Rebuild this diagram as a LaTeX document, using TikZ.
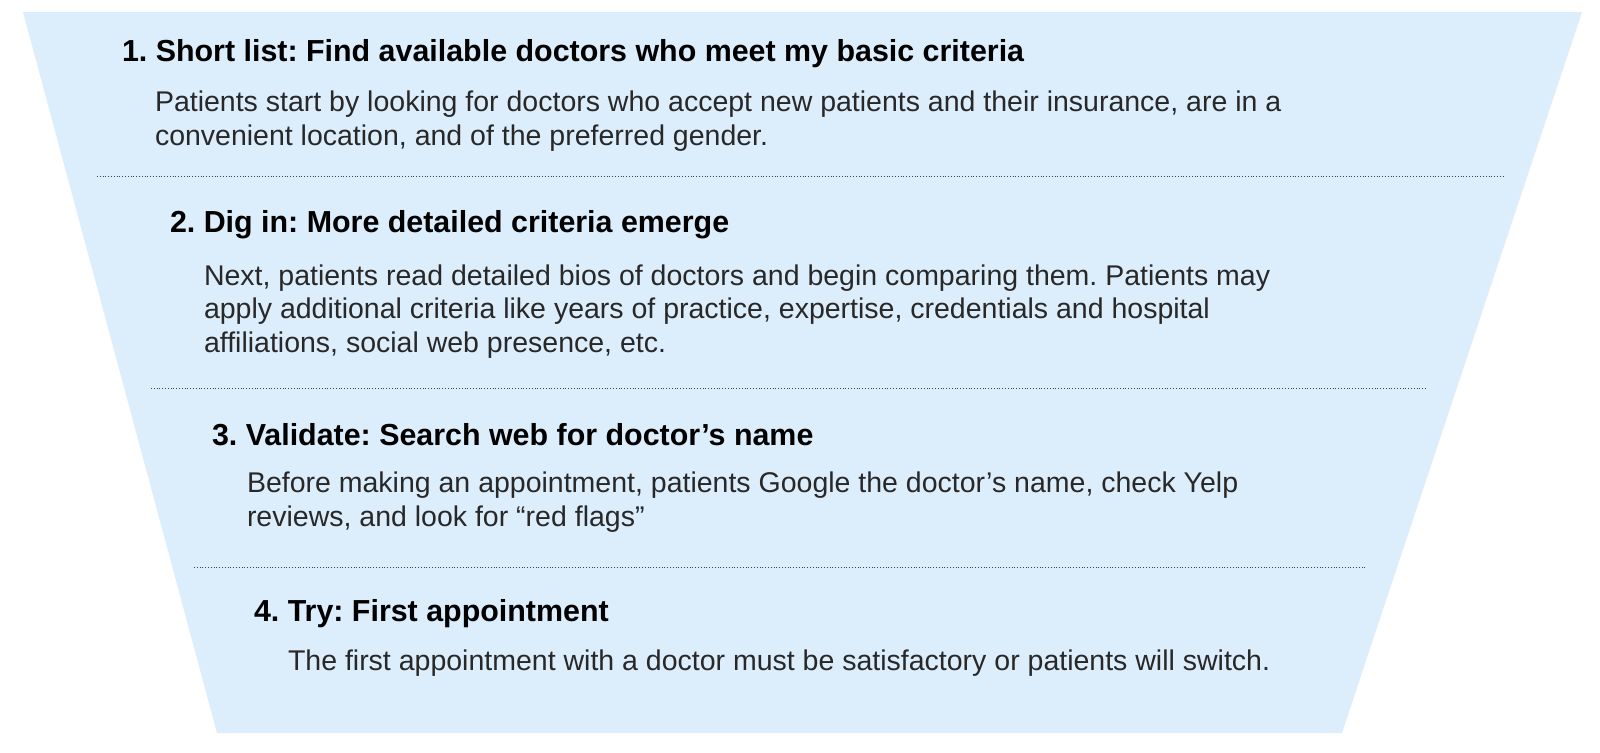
\documentclass[tikz,border=0pt]{standalone}
\usepackage{fontspec}
\setmainfont{Liberation Sans}
\usepackage{xcolor}
\usetikzlibrary{positioning}
\frenchspacing

\definecolor{funnelblue}{RGB}{220,237,252}
\definecolor{bodygray}{RGB}{40,40,40}

\begin{document}
\begin{tikzpicture}[x=0.5pt,y=-0.5pt,semithick]
  \tikzstyle{every node}=[inner sep=0pt, outer sep=0pt, anchor=base west]
  \tikzstyle{steptitle}=[font=\fontsize{15.2}{17}\selectfont\bfseries, text=black]
  \tikzstyle{stepbody}=[font=\fontsize{14.25}{16.75}\selectfont, text=bodygray, align=left]
  \tikzstyle{divider}=[densely dotted, thin, draw=black!75]

  \useasboundingbox (0,0) rectangle (1600,752);
  % the funnel
  \fill[funnelblue] (23,12) -- (1582,12) -- (1342,733) -- (217,733) -- cycle;

  % step 1 (body nodes sit on the baseline of their last line)
  \node[steptitle] (t1) at (122,61) {1. Short list: Find available doctors who meet my basic criteria};
  \node[stepbody]  (b1) at (155,145) {Patients start by looking for doctors who accept new patients and their insurance, are in a\\convenient location, and of the preferred gender.};
  \coordinate (d1l) at (97,176);
  \coordinate (d1r) at (1505,176);
  \draw[divider] (d1l) -- (d1r);

  % step 2
  \node[steptitle] (t2) at (170,232) {2. Dig in: More detailed criteria emerge};
  \node[stepbody]  (b2) at (204,352) {Next, patients read detailed bios of doctors and begin comparing them. Patients may\\apply additional criteria like years of practice, expertise, credentials and hospital\\affiliations, social web presence, etc.};
  \coordinate (d2l) at (151,388);
  \coordinate (d2r) at (1427,388);
  \draw[divider] (d2l) -- (d2r);

  % step 3
  \node[steptitle] (t3) at (212,445) {3. Validate: Search web for doctor’s name};
  \node[stepbody]  (b3) at (247,526) {Before making an appointment, patients Google the doctor’s name, check Yelp\\reviews, and look for “red flags”};
  \coordinate (d3l) at (194,567);
  \coordinate (d3r) at (1366,567);
  \draw[divider] (d3l) -- (d3r);

  % step 4
  \node[steptitle] (t4) at (254,621) {4. Try: First appointment};
  \node[stepbody]  (b4) at (288,670) {The first appointment with a doctor must be satisfactory or patients will switch.};
\end{tikzpicture}
\end{document}
